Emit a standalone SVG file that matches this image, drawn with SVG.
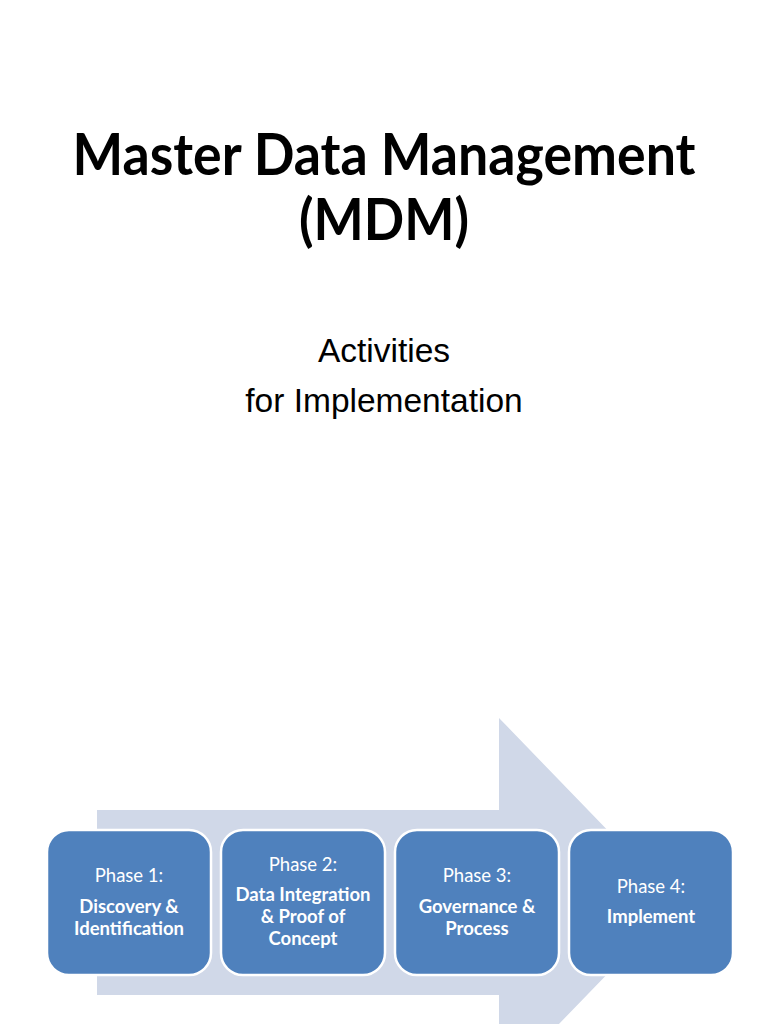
<svg xmlns="http://www.w3.org/2000/svg" width="768" height="1024" viewBox="0 0 768 1024">
<style>
.title{font-family:Lato,"Open Sans","Liberation Sans",sans-serif;font-weight:bold;font-size:57px;fill:#000;text-anchor:middle}
.sub{font-family:"Liberation Sans",Arial,sans-serif;font-size:33.5px;fill:#000;text-anchor:middle}
.box{fill:#4F81BD;stroke:#FFFFFF;stroke-width:2.5}
.ph{font-family:Lato,"Open Sans","Liberation Sans",sans-serif;font-size:18.5px;fill:#FFFFFF;text-anchor:middle}
.bd{font-family:Lato,"Open Sans","Liberation Sans",sans-serif;font-weight:bold;font-size:18.5px;fill:#FFFFFF;text-anchor:middle}
</style>
<rect width="768" height="1024" fill="#FFFFFF"/>
<text class="title" x="384" y="175" textLength="623" lengthAdjust="spacingAndGlyphs">Master Data Management</text>
<text class="title" x="384" y="240" textLength="170" lengthAdjust="spacingAndGlyphs">(MDM)</text>
<text class="sub" x="384" y="362">Activities</text>
<text class="sub" x="384" y="412">for Implementation</text>
<g id="connectors">
<path d="M97,810 L499,810 L499,718 L677,902 L499,1086 L499,995 L97,995 Z" fill="#D0D8E8"/>
</g>
<g id="phase1">
<rect class="box" x="47" y="830" width="164" height="145" rx="22"/>
<text class="ph" x="129" y="882">Phase 1:</text>
<text class="bd" x="129" y="913">Discovery &amp;</text>
<text class="bd" x="129" y="935">Identification</text>
</g>
<g id="phase2">
<rect class="box" x="221" y="830" width="164" height="145" rx="22"/>
<text class="ph" x="303" y="871">Phase 2:</text>
<text class="bd" x="303" y="901">Data Integration</text>
<text class="bd" x="303" y="923">&amp; Proof of</text>
<text class="bd" x="303" y="945">Concept</text>
</g>
<g id="phase3">
<rect class="box" x="395" y="830" width="164" height="145" rx="22"/>
<text class="ph" x="477" y="882">Phase 3:</text>
<text class="bd" x="477" y="913">Governance &amp;</text>
<text class="bd" x="477" y="935">Process</text>
</g>
<g id="phase4">
<rect class="box" x="569" y="830" width="164" height="145" rx="22"/>
<text class="ph" x="651" y="893">Phase 4:</text>
<text class="bd" x="651" y="923">Implement</text>
</g>
</svg>
